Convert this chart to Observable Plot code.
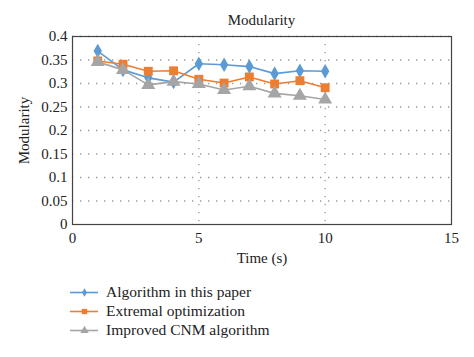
<!DOCTYPE html>
<html>
<head>
<meta charset="utf-8">
<script src="https://cdn.jsdelivr.net/npm/d3@7"></script>
<script src="https://cdn.jsdelivr.net/npm/@observablehq/plot@0.6"></script>
<style>
  body { margin: 0; background: #fff; font-family: "Liberation Serif", serif; color: #222; }
  #wrap { width: 474px; height: 357px; position: relative; }
  #title { position: absolute; left: 72px; width: 379px; top: 11px; line-height: 18px; text-align: center; font-size: 15px; }
  #legend { padding-left: 70px; padding-top: 10px; font-size: 15.5px; }
  .row { height: 19px; display: flex; align-items: center; }
  .row svg { margin-right: 8px; }
</style>
</head>
<body>
<div id="wrap">
  <div id="chart"></div>
  <div id="legend"></div>
  <div id="title">Modularity</div>
</div>
<script>
const times = [1, 2, 3, 4, 5, 6, 7, 8, 9, 10];
const algorithmThisPaper = [0.369, 0.329, 0.312, 0.303, 0.342, 0.340, 0.336, 0.321, 0.327, 0.326];
const extremalOptimization = [0.348, 0.341, 0.326, 0.327, 0.309, 0.301, 0.314, 0.299, 0.306, 0.291];
const improvedCNM = [0.346, 0.329, 0.297, 0.304, 0.299, 0.286, 0.294, 0.279, 0.274, 0.266];
const seriesNames = ["Algorithm in this paper", "Extremal optimization", "Improved CNM algorithm"];
const seriesColors = ["#5B9BD5", "#ED7D31", "#A5A5A5"];
const seriesSymbols = ["diamond", "square", "triangle"];
const seriesR = [4.4, 5, 5.2];
const xTicks = [0, 5, 10, 15];
const yTicks = [0, 0.05, 0.1, 0.15, 0.2, 0.25, 0.3, 0.35, 0.4];

const allSeries = [algorithmThisPaper, extremalOptimization, improvedCNM];
const data = allSeries.flatMap((vals, i) => vals.map((v, j) => ({series: seriesNames[i], time: times[j], value: v})));

const font = "Liberation Serif, serif";
const marks = [
  Plot.ruleY(yTicks.filter(d => d > 0), {stroke: "#999", strokeDasharray: "1.3,6.7", strokeWidth: 1.3}),
  Plot.ruleX([5, 10], {stroke: "#999", strokeDasharray: "1.3,6.7", strokeWidth: 1.3}),
  Plot.frame({stroke: "#444", strokeWidth: 1.2}),
  Plot.axisY({ticks: yTicks, tickSize: 0, tickPadding: 5, tickFormat: d => d === 0 ? "0" : String(d), fontSize: 15, fontFamily: font,
    label: "Modularity", labelAnchor: "center", labelArrow: "none", labelOffset: 54}),
  Plot.axisX({ticks: xTicks, tickSize: 0, tickPadding: 8, fontSize: 15, fontFamily: font,
    label: "Time (s)", labelAnchor: "center", labelArrow: "none", labelOffset: 38})
];
seriesNames.forEach((name, i) => {
  const d = data.filter(r => r.series === name);
  marks.push(Plot.line(d, {x: "time", y: "value", stroke: seriesColors[i], strokeWidth: 1.6}));
  marks.push(Plot.dot(d, {x: "time", y: "value", fill: seriesColors[i], symbol: seriesSymbols[i], r: seriesR[i], stroke: "none"}));
});

const chart = Plot.plot({
  width: 474,
  height: 272,
  marginLeft: 72,
  marginRight: 23,
  marginTop: 36,
  marginBottom: 48,
  style: {fontFamily: font, fontSize: "15px", color: "#222", background: "#fff"},
  x: {domain: [0, 15]},
  y: {domain: [0, 0.4]},
  marks
});
document.getElementById("chart").appendChild(chart);

const legend = document.getElementById("legend");
seriesNames.forEach((name, i) => {
  const row = document.createElement("div");
  row.className = "row";
  const sw = Plot.plot({
    width: 28, height: 14, margin: 0,
    x: {domain: [0, 1], axis: null}, y: {domain: [0, 1], axis: null},
    marks: [
      Plot.ruleY([0.5], {x1: 0, x2: 1, stroke: seriesColors[i], strokeWidth: 1.6}),
      Plot.dot([{x: 0.5, y: 0.5}], {x: "x", y: "y", fill: seriesColors[i], symbol: seriesSymbols[i], r: seriesR[i] * 0.6})
    ]
  });
  row.appendChild(sw);
  const t = document.createElement("span");
  t.textContent = name;
  row.appendChild(t);
  legend.appendChild(row);
});
</script>
</body>
</html>
